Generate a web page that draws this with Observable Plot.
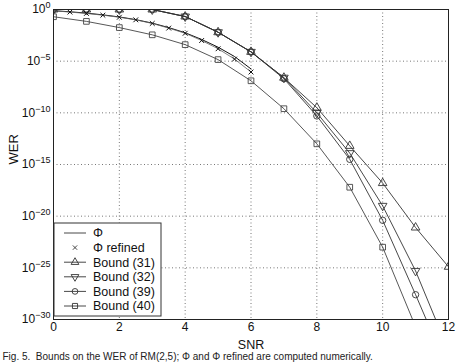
<!DOCTYPE html>
<html>
<head>
<meta charset="utf-8">
<script src="https://cdn.jsdelivr.net/npm/d3@7"></script>
<script src="https://cdn.jsdelivr.net/npm/@observablehq/plot@0.6"></script>
<style>
  html, body { margin: 0; padding: 0; background: #fff; }
  #chart { width: 474px; height: 364px; overflow: hidden; position: relative; }
  svg { font-family: "Liberation Sans", Arial, sans-serif; }
</style>
</head>
<body>
<div id="chart"></div>
<script>
// ---- data (log10 of WER) ----
const snr = [0, 1, 2, 3, 4, 5, 6, 7, 8, 9, 10, 11, 12];
const bound31 = [0, 0, 0, 0, -0.68, -2.2, -4.1, -6.6, -9.5, -13.2, -16.8, -21.1, -24.9];
const bound32 = [0, 0, 0, 0, -0.68, -2.2, -4.1, -6.6, -10.0, -13.9, -19.0, -25.3, -33.0];
const bound39 = [0, 0, 0, 0, -0.68, -2.2, -4.1, -6.7, -10.3, -14.5, -20.4, -27.6, -35.0];
const snr40 = [0, 1, 2, 3, 4, 5, 6, 7, 8, 9, 10, 11];
const bound40 = [-0.7, -1.15, -1.75, -2.45, -3.4, -4.85, -6.9, -9.6, -13.0, -17.2, -23.0, -30.7];
const snrPhi = [0, 0.5, 1, 1.5, 2, 2.5, 3, 3.5, 4, 4.5, 5, 5.5, 6];
const phi = [-0.12, -0.22, -0.35, -0.52, -0.72, -0.98, -1.32, -1.75, -2.25, -2.9, -3.65, -4.55, -5.75];
const phiRefined = [-0.12, -0.25, -0.38, -0.55, -0.75, -1.0, -1.35, -1.8, -2.3, -3.0, -3.8, -4.8, -6.05];
const yTickExp = [0, -5, -10, -15, -20, -25, -30];
const xTicks = [0, 2, 4, 6, 8, 10, 12];
const legendNames = ["\u03A6", "\u03A6 refined", "Bound (31)", "Bound (32)", "Bound (39)", "Bound (40)"];
const caption = "Fig. 5.  Bounds on the WER of RM(2,5); \u03A6 and \u03A6 refined are computed numerically.";

// ---- symbols ----
const triDown = {
  draw(context, size) {
    const y = -Math.sqrt(size / (Math.sqrt(3) * 3));
    context.moveTo(0, -y * 2);
    context.lineTo(-Math.sqrt(3) * y, y);
    context.lineTo(Math.sqrt(3) * y, y);
    context.closePath();
  }
};

const toRows = (xs, es) => xs.map((x, i) => ({x, y: Math.pow(10, es[i])}));
const series = [
  {name: legendNames[2], rows: toRows(snr, bound31), symbol: "triangle", color: "#333"},
  {name: legendNames[3], rows: toRows(snr, bound32), symbol: triDown, color: "#333"},
  {name: legendNames[4], rows: toRows(snr, bound39), symbol: "circle", color: "#333"},
  {name: legendNames[5], rows: toRows(snr40, bound40), symbol: "square", color: "#444"}
];
const phiRows = toRows(snrPhi, phi);
const phiRefRows = toRows(snrPhi, phiRefined);

const marks = [
  Plot.gridX(xTicks.slice(1, -1), {stroke: "#777", strokeOpacity: 1, strokeDasharray: "1,2.5"}),
  Plot.gridY(yTickExp.slice(1, -1).map(e => Math.pow(10, e)), {stroke: "#777", strokeOpacity: 1, strokeDasharray: "1,2.5"}),
  Plot.axisX({ticks: xTicks, tickSize: 0, tickPadding: 3, label: null, fontSize: 12}),
  Plot.axisY({ticks: yTickExp.map(e => Math.pow(10, e)), tickSize: 0, tickPadding: 3, label: null, fontSize: 12,
    tickFormat: d => String(Math.round(Math.log10(d)))}),
];
for (const s of series) {
  marks.push(Plot.line(s.rows, {x: "x", y: "y", stroke: s.color, strokeWidth: 0.9, clip: true}));
  marks.push(Plot.dot(s.rows, {x: "x", y: "y", symbol: () => s.symbol, stroke: s.color, fill: "none", r: 3.2, strokeWidth: 0.9, clip: true}));
}
marks.push(Plot.line(phiRows, {x: "x", y: "y", stroke: "#111", strokeWidth: 1, clip: true}));
marks.push(Plot.line(phiRefRows, {x: "x", y: "y", stroke: "#666", strokeWidth: 0.8, clip: true}));
marks.push(Plot.dot(phiRefRows.slice(1), {x: "x", y: "y", symbol: "times", stroke: "#111", r: 2.3, strokeWidth: 1, clip: true}));
marks.push(Plot.frame({stroke: "#222", strokeWidth: 1}));
marks.push(Plot.text(["SNR"], {frameAnchor: "bottom", dy: 29, fontSize: 12.5, fill: "#111"}));
marks.push(Plot.text(["WER"], {frameAnchor: "left", dx: -40, rotate: -90, fontSize: 13, fill: "#111"}));
marks.push(Plot.text([caption], {frameAnchor: "bottom-left", dx: -51, dy: 40, textAnchor: "start", fontSize: 10, fill: "#222"}));

const svg = Plot.plot({
  width: 474,
  height: 364,
  marginLeft: 53,
  marginRight: 26,
  marginTop: 9,
  marginBottom: 45,
  style: {fontFamily: "'Liberation Sans', Arial, sans-serif", fontSize: "12px", color: "#111", background: "#fff"},
  x: {domain: [0, 12]},
  y: {type: "log", domain: [1e-30, 1]},
  marks
});
document.getElementById("chart").appendChild(svg);

// superscript exponents on y tick labels
d3.select(svg).selectAll('g[aria-label="y-axis tick label"] text').each(function() {
  const t = d3.select(this);
  const raw = t.text().replace(/[-\u2212]/g, "");
  const e = raw === "0" ? "0" : "\u2212" + raw;
  t.text("10");
  t.append("tspan").attr("dy", "-0.55em").attr("font-size", "9px").text(e);
});

// legend (southwest box inside the axes)
const sx = 53, bottom = 319;
const lg = d3.select(svg).append("g").attr("font-size", "12.5px").attr("fill", "#111").attr("text-anchor", "start");
const boxW = 107, boxH = 93, boxX = sx + 1, boxY = bottom - 3 - boxH;
lg.append("rect").attr("x", boxX).attr("y", boxY).attr("width", boxW).attr("height", boxH)
  .attr("fill", "#fff").attr("stroke", "#333").attr("stroke-width", 1);
const legendSymbols = [null, d3.symbolTimes, d3.symbolTriangle, triDown, d3.symbolCircle, d3.symbolSquare];
legendNames.forEach((name, i) => {
  const cy = boxY + 10 + i * 14.6;
  if (i !== 1) {
    lg.append("line").attr("x1", boxX + 10).attr("x2", boxX + 32).attr("y1", cy).attr("y2", cy)
      .attr("stroke", "#333").attr("stroke-width", 0.9);
  }
  if (legendSymbols[i]) {
    const size = i === 1 ? 14 : 26;
    lg.append("path").attr("d", d3.symbol(legendSymbols[i], size)())
      .attr("transform", `translate(${boxX + 21},${cy})`)
      .attr("fill", "none").attr("stroke", "#333").attr("stroke-width", 0.9);
  }
  lg.append("text").attr("x", boxX + 39).attr("y", cy).attr("dy", "0.35em").attr("text-anchor", "start").text(name);
});
</script>
</body>
</html>
